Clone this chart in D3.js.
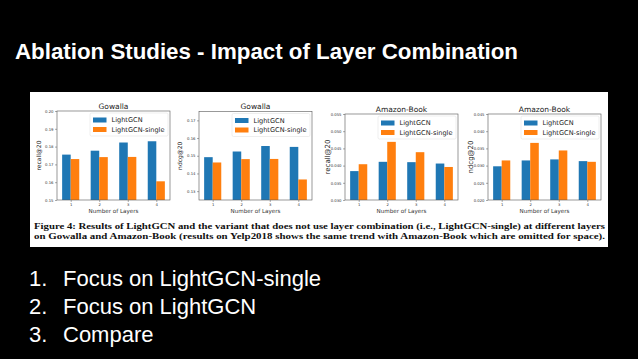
<!DOCTYPE html>
<html><head><meta charset="utf-8">
<script src="https://cdn.jsdelivr.net/npm/d3@7"></script>
<style>html,body{margin:0;padding:0;background:#000;}svg{display:block;}</style>
</head><body>
<script>
// ---- data ----
const layers = [1, 2, 3, 4];
const seriesNames = ["LightGCN", "LightGCN-single"];
const gowallaRecallLightGCN = [0.1755, 0.1777, 0.1823, 0.1830];
const gowallaRecallSingle   = [0.1730, 0.1741, 0.1742, 0.1605];
const gowallaNdcgLightGCN   = [0.1492, 0.1524, 0.1555, 0.1550];
const gowallaNdcgSingle     = [0.1462, 0.1481, 0.1482, 0.1366];
const amazonRecallLightGCN  = [0.0384, 0.0411, 0.0410, 0.0406];
const amazonRecallSingle    = [0.0404, 0.0469, 0.0439, 0.0396];
const amazonNdcgLightGCN    = [0.0298, 0.0315, 0.0318, 0.0313];
const amazonNdcgSingle      = [0.0315, 0.0366, 0.0344, 0.0311];
const gowallaRecallTicks = [0.15, 0.16, 0.17, 0.18, 0.19, 0.20];
const gowallaNdcgTicks   = [0.13, 0.14, 0.15, 0.16, 0.17];
const amazonRecallTicks  = [0.030, 0.035, 0.040, 0.045, 0.050, 0.055];
const amazonNdcgTicks    = [0.020, 0.025, 0.030, 0.035, 0.040, 0.045];
const chartTitles = ["Gowalla", "Gowalla", "Amazon-Book", "Amazon-Book"];
const yLabels = ["recall@20", "ndcg@20", "recall@20", "ndcg@20"];
const xLabel = "Number of Layers";
const slideTitle = "Ablation Studies - Impact of Layer Combination";
const captionLines = [
  "Figure 4: Results of LightGCN and the variant that does not use layer combination (i.e., LightGCN-single) at different layers",
  "on Gowalla and Amazon-Book (results on Yelp2018 shows the same trend with Amazon-Book which are omitted for space)."
];
const listItems = ["Focus on LightGCN-single", "Focus on LightGCN", "Compare"];

const W = 638, H = 359;
const colors = ["#1f77b4", "#ff7f0e"];
const svg = d3.select("body").append("svg").attr("width", W).attr("height", H);
svg.append("rect").attr("width", W).attr("height", H).attr("fill", "#000");

// slide title
svg.append("text").attr("x", 15).attr("y", 59).attr("fill", "#fff")
  .attr("font-family", "Liberation Sans, Arial, sans-serif").attr("font-weight", "bold")
  .attr("font-size", 22).attr("textLength", 503).attr("lengthAdjust", "spacingAndGlyphs")
  .text(slideTitle);

// white figure panel
svg.append("rect").attr("x", 30).attr("y", 92).attr("width", 578).attr("height", 155).attr("fill", "#fff");

const charts = [
  {lg: gowallaRecallLightGCN, sg: gowallaRecallSingle, ticks: gowallaRecallTicks, dom: [0.15, 0.20], fmt: ".2f",
   left: 57, right: 170, top: 111, bottom: 200, ylx: 39, yfs: 6},
  {lg: gowallaNdcgLightGCN, sg: gowallaNdcgSingle, ticks: gowallaNdcgTicks, dom: [0.125, 0.175], fmt: ".2f",
   left: 199, right: 312, top: 111.5, bottom: 200, ylx: 180, yfs: 6},
  {lg: amazonRecallLightGCN, sg: amazonRecallSingle, ticks: amazonRecallTicks, dom: [0.030, 0.055], fmt: ".3f",
   left: 345, right: 458, top: 114, bottom: 200, ylx: 328, yfs: 7},
  {lg: amazonNdcgLightGCN, sg: amazonNdcgSingle, ticks: amazonNdcgTicks, dom: [0.020, 0.045], fmt: ".3f",
   left: 488, right: 601, top: 114, bottom: 200, ylx: 471, yfs: 7}
];

const sans = "DejaVu Sans, sans-serif";
charts.forEach((c, i) => {
  const g = svg.append("g");
  const x = d3.scaleLinear().domain([0.52, 4.48]).range([c.left, c.right]);
  const y = d3.scaleLinear().domain(c.dom).range([c.bottom, c.top]);
  const bw = x(0.3) - x(0);
  // bars
  [c.lg, c.sg].forEach((vals, s) => {
    g.selectAll(null).data(layers).enter().append("rect")
      .attr("x", (d) => s === 0 ? x(d - 0.3) : x(d))
      .attr("width", bw)
      .attr("y", (d, k) => y(vals[k]))
      .attr("height", (d, k) => c.bottom - y(vals[k]))
      .attr("fill", colors[s]);
  });
  // axes
  const ya = g.append("g").attr("transform", `translate(${c.left},0)`)
    .call(d3.axisLeft(y).tickValues(c.ticks).tickFormat(d3.format(c.fmt)).tickSize(2).tickPadding(1.5));
  const xa = g.append("g").attr("transform", `translate(0,${c.bottom})`)
    .call(d3.axisBottom(x).tickValues(layers).tickFormat(d3.format("d")).tickSize(2).tickPadding(1.5));
  [ya, xa].forEach(a => {
    a.select(".domain").remove();
    a.selectAll("line").attr("stroke", "#555").attr("stroke-width", 0.5);
    a.selectAll("text").attr("font-family", sans).attr("font-size", 3.8).attr("fill", "#333");
  });
  // frame
  g.append("rect").attr("x", c.left).attr("y", c.top).attr("width", c.right - c.left)
    .attr("height", c.bottom - c.top).attr("fill", "none").attr("stroke", "#555").attr("stroke-width", 0.6);
  // title
  g.append("text").attr("x", (c.left + c.right) / 2).attr("y", c.top - 2.5).attr("text-anchor", "middle")
    .attr("font-family", sans).attr("font-size", 7.5).attr("fill", "#222").text(chartTitles[i]);
  // x label
  g.append("text").attr("x", (c.left + c.right) / 2).attr("y", 213).attr("text-anchor", "middle")
    .attr("font-family", sans).attr("font-size", 5.6).attr("fill", "#333").text(xLabel);
  // y label
  g.append("text").attr("transform", `translate(${c.ylx},${(c.top + c.bottom) / 2}) rotate(-90)`)
    .attr("text-anchor", "middle").attr("dy", "0.35em")
    .attr("font-family", sans).attr("font-size", c.yfs).attr("fill", "#222").text(yLabels[i]);
  // legend
  const lw = 78, lh = 23, lx = c.right - 2 - lw, ly = c.top + 2;
  g.append("rect").attr("x", lx).attr("y", ly).attr("width", lw).attr("height", lh).attr("rx", 1.5)
    .attr("fill", "#fff").attr("stroke", "#ddd").attr("stroke-width", 0.5);
  seriesNames.forEach((n, s) => {
    const cy = ly + 7 + s * 9.5;
    g.append("rect").attr("x", lx + 3).attr("y", cy - 2.5).attr("width", 13.5).attr("height", 5).attr("fill", colors[s]);
    g.append("text").attr("x", lx + 21.5).attr("y", cy).attr("dy", "0.35em")
      .attr("font-family", sans).attr("font-size", 6.6).attr("fill", "#222").text(n);
  });
});

// caption
captionLines.forEach((t, k) => {
  svg.append("text").attr("x", 34).attr("y", 228.5 + k * 10.3)
    .attr("font-family", "Liberation Serif, serif").attr("font-weight", "bold").attr("font-size", 9.2)
    .attr("fill", "#111").attr("textLength", 571).attr("lengthAdjust", "spacingAndGlyphs").text(t);
});

// list
listItems.forEach((t, k) => {
  const yy = 285.5 + k * 28;
  svg.append("text").attr("x", 29).attr("y", yy).attr("fill", "#fff")
    .attr("font-family", "Liberation Sans, Arial, sans-serif").attr("font-size", 22).text((k + 1) + ".");
  svg.append("text").attr("x", 63).attr("y", yy).attr("fill", "#fff")
    .attr("font-family", "Liberation Sans, Arial, sans-serif").attr("font-size", 22).text(t);
});
</script>
</body></html>
